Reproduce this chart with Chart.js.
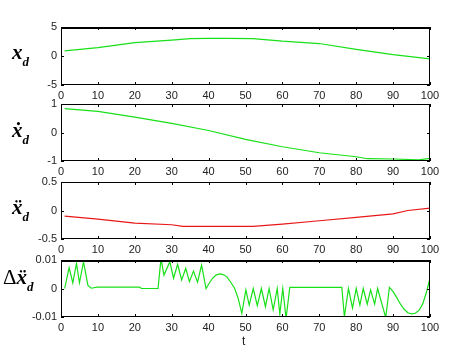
<!DOCTYPE html>
<html>
<head>
<meta charset="utf-8">
<script src="https://cdn.jsdelivr.net/npm/chart.js@4.4.0/dist/chart.umd.min.js"></script>
<style>
  body { margin: 0; background: #fff; }
  #wrap { position: relative; width: 474px; height: 355px; overflow: hidden; }
  canvas { position: absolute; left: 0; }
  .ylab { position: absolute; font-family: "Liberation Serif", "DejaVu Serif", serif; font-weight: bold; font-style: italic; font-size: 21px; color: #000; white-space: nowrap; }
  .ylab sub { font-size: 13px; font-weight: bold; position: relative; top: 2px; }
  .ylab .up { font-style: normal; font-weight: normal; }
  #tlab { position: absolute; left: 242px; top: 334px; font-family: "Liberation Sans", Arial, sans-serif; font-size: 12px; color: #222; }
</style>
</head>
<body>
<div id="wrap">
  <canvas id="c1" width="474" height="86"></canvas>
  <canvas id="c2" width="474" height="85"></canvas>
  <canvas id="c3" width="474" height="85"></canvas>
  <canvas id="c4" width="474" height="85"></canvas>
  <div class="ylab" style="left:12px; top:40px;">x<sub>d</sub></div>
  <div class="ylab" style="left:12px; top:118px;">ẋ<sub>d</sub></div>
  <div class="ylab" style="left:12px; top:195px;">ẍ<sub>d</sub></div>
  <div class="ylab" style="left:3px; top:265px;"><span class="up">Δ</span>ẍ<sub>d</sub></div>
  <div id="tlab">t</div>
</div>
<script>
//--------------------- Data ---------------------

const xTicks = [0, 10, 20, 30, 40, 50, 60, 70, 80, 90, 100];

// x_d
const tPos = [1, 10, 20, 30, 35, 40, 45, 52, 60, 70, 80, 90, 100];
const xPos = [0.9, 1.45, 2.3, 2.75, 3.0, 3.05, 3.05, 3.0, 2.55, 2.15, 1.15, 0.25, -0.5];
const yTicksPos = [-5, 0, 5];

// dx_d
const tVel = [1, 10, 20, 30, 40, 50, 60, 70, 80, 83, 90, 97, 100];
const xVel = [0.84, 0.74, 0.54, 0.32, 0.07, -0.24, -0.5, -0.71, -0.85, -0.92, -0.93, -0.96, -0.91];
const yTicksVel = [-1, 0, 1];

// ddx_d
const tAcc = [1, 10, 20, 30, 33, 40, 52, 60, 70, 80, 90, 94, 100];
const xAcc = [-0.1, -0.15, -0.22, -0.25, -0.28, -0.28, -0.28, -0.24, -0.18, -0.12, -0.06, 0.0, 0.04];
const yTicksAcc = [-0.5, 0, 0.5];

// delta ddx_d
const tErr = [
  1, 2.2, 3.2, 4.2, 5.0, 6.1, 7.3, 8.2, 9.8, 21.3, 21.8, 26.3,
  27.1, 27.9, 29.5, 30.5, 31.6, 32.7, 33.8, 34.8, 35.9, 37.0, 38.1, 39.3,
  40, 41, 42, 43, 44, 45, 46, 47, 48, 49,
  50.1, 51.0, 52.1, 53.2, 54.3, 55.4, 56.4, 57.5, 58.6, 59.3, 60.1, 61.0, 62.0,
  76.1, 76.8, 77.9, 79.0, 80.0, 81.0, 81.9, 83.0, 83.9, 85.0, 85.8, 88.0, 89.0,
  90, 91, 92, 93, 94, 95, 96, 97, 98, 99, 100
];
const xErr = [
  0, 0.0073, 0.002, 0.0088, 0.002, 0.0093, 0.0011, 0.0001, 0.0005, 0.0005, 0, 0,
  0.0105, 0.0047, 0.0094, 0.0036, 0.0085, 0.003, 0.0071, 0.0024, 0.0061, 0.0022, 0.0082, 0,
  0.0015, 0.0035, 0.0047, 0.0051, 0.0049, 0.004, 0.0022, 0.0002, -0.0034, -0.0087,
  -0.0005, -0.0058, 0, -0.006, 0, -0.0064, 0, -0.0075, 0, -0.009, 0, -0.0105, 0.0004,
  0.0004, -0.0099, 0, -0.0069, 0, -0.0058, 0, -0.0055, -0.0005, -0.0055, 0, -0.0102, 0.0004,
  -0.0011, -0.0032, -0.0055, -0.0073, -0.0085, -0.0089, -0.0087, -0.0077, -0.0055, -0.0015, 0.0036
];
const yTicksErr = [-0.01, 0, 0.01];

//--------------------- Chart Creation ---------------------

const plotLeft = 61;
const plotRight = 430;
const padTop = 8;
const xAxisH = 20;

// draws the box and the inward tick marks, like the original figure
const frameTicks = {
  id: "frameTicks",
  afterDraw(chart, args, opts) {
    const { ctx, chartArea: a, scales } = chart;
    ctx.save();
    ctx.strokeStyle = "#000";
    ctx.lineWidth = 1;
    ctx.beginPath();
    scales.x.ticks.forEach((tk) => {
      const px = Math.round(scales.x.getPixelForValue(tk.value)) + 0.5;
      ctx.moveTo(px, a.bottom);
      ctx.lineTo(px, a.bottom - 3);
      ctx.moveTo(px, a.top);
      ctx.lineTo(px, a.top + 3);
    });
    scales.y.ticks.forEach((tk) => {
      const py = Math.round(scales.y.getPixelForValue(tk.value)) + 0.5;
      ctx.moveTo(a.left, py);
      ctx.lineTo(a.left + 3, py);
      ctx.moveTo(a.right, py);
      ctx.lineTo(a.right - 3, py);
    });
    ctx.stroke();
    ctx.strokeRect(a.left + 0.5, a.top + 0.5, a.right - a.left - 1, a.bottom - a.top - 1);
    if (opts.thickTop) {
      ctx.lineWidth = 2;
      ctx.beginPath();
      ctx.moveTo(a.left, a.top + 1);
      ctx.lineTo(a.right, a.top + 1);
      ctx.stroke();
    }
    ctx.restore();
  },
};

function makePanel(id, top, plotH, tVals, yVals, yTicks, color, thickTop) {
  const canvas = document.getElementById(id);
  canvas.style.top = top - padTop + "px";
  canvas.height = padTop + plotH + xAxisH;
  const points = tVals.map((t, i) => ({ x: t, y: yVals[i] }));

  return new Chart(canvas, {
    type: "line",
    data: {
      datasets: [
        {
          data: points,
          borderColor: color,
          borderWidth: 1.2,
          pointRadius: 0,
          tension: 0,
          fill: false,
        },
      ],
    },
    options: {
      responsive: false,
      animation: false,
      layout: { padding: { left: 0, right: 474 - plotRight, top: padTop, bottom: 0 } },
      plugins: { legend: { display: false }, tooltip: { enabled: false }, frameTicks: { thickTop } },
      scales: {
        x: {
          type: "linear",
          min: 0,
          max: 100,
          afterBuildTicks: (s) => { s.ticks = xTicks.map((v) => ({ value: v })); },
          afterFit: (s) => { s.height = xAxisH; s.paddingLeft = 0; s.paddingRight = 0; },
          grid: { display: false, drawTicks: false },
          border: { display: false },
          ticks: { padding: 4, color: "#222", font: { family: "Liberation Sans, Arial", size: 11 }, maxRotation: 0 },
        },
        y: {
          min: yTicks[0],
          max: yTicks[yTicks.length - 1],
          afterBuildTicks: (s) => { s.ticks = yTicks.map((v) => ({ value: v })); },
          afterFit: (s) => { s.width = plotLeft; s.paddingTop = 0; s.paddingBottom = 0; },
          grid: { display: false, drawTicks: false },
          border: { display: false },
          ticks: { padding: 4, color: "#222", font: { family: "Liberation Sans, Arial", size: 11 } },
        },
      },
    },
    plugins: [frameTicks],
  });
}

makePanel("c1", 27, 58, tPos, xPos, yTicksPos, "#18e018", true);
makePanel("c2", 104, 57, tVel, xVel, yTicksVel, "#18e018", false);
makePanel("c3", 182, 57, tAcc, xAcc, yTicksAcc, "#e81818", false);
makePanel("c4", 260, 57, tErr, xErr, yTicksErr, "#18e018", true);
</script>
</body>
</html>
